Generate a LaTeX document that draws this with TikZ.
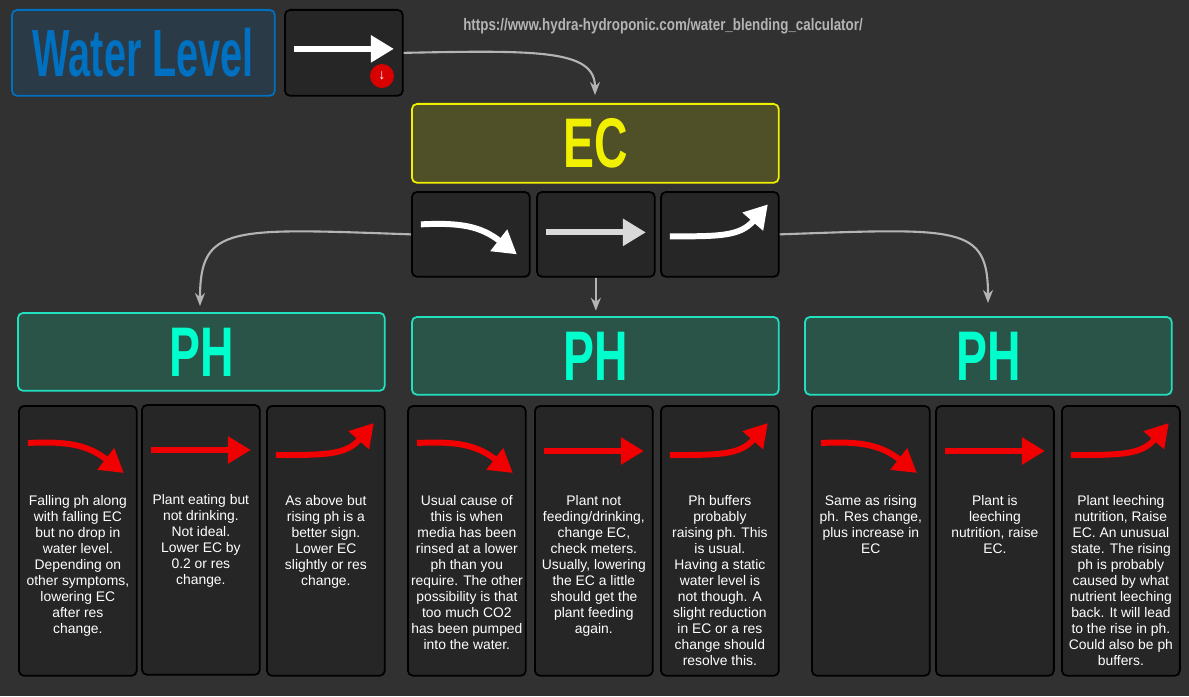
\documentclass[tikz,border=0pt]{standalone}
\usepackage{fontspec}
\setmainfont{Liberation Sans}
\usetikzlibrary{arrows.meta,positioning,calc}
\definecolor{bgdark}{HTML}{313131}
\definecolor{cardfill}{HTML}{262626}
\definecolor{waterfill}{HTML}{2B3A47}
\definecolor{waterline}{HTML}{0070C0}
\definecolor{ecfill}{HTML}{4F4F28}
\definecolor{ecline}{HTML}{F0F000}
\definecolor{phfill}{HTML}{2A5448}
\definecolor{phline}{HTML}{20E0C0}
\definecolor{phtext}{HTML}{00FFCC}
\definecolor{glyphred}{HTML}{F00000}
\definecolor{linkgrey}{HTML}{B4B4B4}
\newcommand{\titletext}[2]{\scalebox{0.66}[1]{\textcolor{#1}{\bfseries #2}}}
\tikzset{
    % Header boxes
    header/.style={
        rectangle,
        rounded corners=3pt,
        draw=#1line,
        fill=#1fill,
        line width=1pt,
        anchor=north west,
        inner sep=0pt
    },
    % Small dark card
    card/.style={
        rectangle,
        rounded corners=3pt,
        draw=black,
        fill=cardfill,
        line width=1pt,
        anchor=north west,
        minimum width=2.36cm,
        inner sep=0pt
    },
    % Explanation text
    note/.style={
        font=\fontsize{7.9}{9.1}\selectfont,
        text=white,
        align=center
    },
    % Connector style
    link/.style={
        -{Stealth[length=2.6mm, width=2mm]},
        line width=1.2pt,
        color=linkgrey
    },
    % Trend glyph style
    glyph/.style={
        line width=#1,
        -{Triangle[length=4.6mm, width=5.2mm]}
    },
    pics/fall/.style={code={
        \draw[glyph=3.4pt, color=#1] (-50,-10) .. controls (-10,-12) and (10,-8) .. (46,20);
    }},
    pics/flat/.style={code={
        \draw[glyph=3.4pt, color=#1] (-50,-2) -- (50,-2);
    }},
    pics/rise/.style={code={
        \draw[glyph=3.4pt, color=#1] (-50,2) .. controls (0,2) and (20,2) .. (48,-30);
    }}
}
\begin{document}
\begin{tikzpicture}[x=0.02cm, y=-0.02cm]
    \fill[bgdark] (0,0) rectangle (1189,696);
    \useasboundingbox (0,0) rectangle (1189,696);

    % Water level row
    \node[header=water, minimum width=5.26cm, minimum height=1.72cm] (water) at (11,9) {};
    \node[font=\fontsize{38}{38}\selectfont] at (water.center) {\scalebox{0.9}[1]{\titletext{waterline}{Water Level}}};
    \node[card, minimum height=1.72cm] (wlcard) at (284,9) {};
    \pic at ($(wlcard.center)+(0,-2)$) {flat=white};
    \node[circle, fill=red!85!black, minimum size=0.48cm, inner sep=0pt, font=\fontsize{8}{8}\selectfont, text=white] (thumb) at (382,76) {\bfseries\textdownarrow};
    \node[font=\fontsize{9.5}{9.5}\selectfont\bfseries, text=linkgrey] (url) at (663,26) {\scalebox{0.8}[1]{https://www.hydra-hydroponic.com/water\_blending\_calculator/}};

    % EC row
    \node[header=ec, minimum width=7.34cm, minimum height=1.58cm] (ec) at (411,103) {};
    \node[font=\fontsize{40}{40}\selectfont] at (ec.center) {\titletext{ecline}{EC}};
    \node[card, minimum height=1.7cm] (ecfall) at (411,191) {};
    \node[card, minimum height=1.7cm] (ecflat) at (536,191) {};
    \node[card, minimum height=1.7cm] (ecrise) at (660,191) {};
    \pic at (ecfall.center) {fall=white};
    \pic at (ecflat.center) {flat=white!85!black};
    \pic at (ecrise.center) {rise=white};

    % PH row
    \node[header=ph, minimum width=7.34cm, minimum height=1.56cm] (phleft) at (17,312) {};
    \node[header=ph, minimum width=7.34cm, minimum height=1.56cm] (phmid) at (411,316) {};
    \node[header=ph, minimum width=7.34cm, minimum height=1.56cm] (phright) at (804,316) {};
    \foreach \p in {phleft,phmid,phright}
        \node[font=\fontsize{40}{40}\selectfont] at (\p.center) {\titletext{phtext}{PH}};

    % Connectors
    \coordinate (ecin) at (595,95);
    \coordinate (phleftin) at (200,306);
    \coordinate (phrightin) at (988,303);
    \draw[link] (wlcard.east) .. controls (540,50) and (595,50) .. (ecin);
    \draw[link] (ecfall.west) .. controls (230,228) and (200,225) .. (phleftin);
    \draw[link] (ecflat.south) -- ++(0,33) coordinate (phmidin);
    \draw[link] (ecrise.east) .. controls (960,228) and (988,225) .. (phrightin);

    % Explanation cards
    \foreach \n/\x/\y/\g/\t in {
        c1/18/405/fall/{Falling ph along\\with falling EC\\but no drop in\\water level.\\Depending on\\other symptoms,\\lowering EC\\after res\\change.},
        c2/141/404/flat/{Plant eating but\\not drinking.\\Not ideal.\\Lower EC by\\0.2 or res\\change.},
        c3/266/405/rise/{As above but\\rising ph is a\\better sign.\\Lower EC\\slightly or res\\change.},
        c4/407/405/fall/{Usual cause of\\this is when\\media has been\\rinsed at a lower\\ph than you\\require. The other\\possibility is that\\too much CO2\\has been pumped\\into the water.},
        c5/534/405/flat/{Plant not\\feeding/drinking,\\change EC,\\check meters.\\Usually, lowering\\the EC a little\\should get the\\plant feeding\\again.},
        c6/660/405/rise/{Ph buffers\\probably\\raising ph. This\\is usual.\\Having a static\\water level is\\not though. A\\slight reduction\\in EC or a res\\change should\\resolve this.},
        c7/811/405/fall/{Same as rising\\ph. Res change,\\plus increase in\\EC},
        c8/935/405/flat/{Plant is\\leeching\\nutrition, raise\\EC.},
        c9/1061/405/rise/{Plant leeching\\nutrition, Raise\\EC. An unusual\\state. The rising\\ph is probably\\caused by what\\nutrient leeching\\back. It will lead\\to the rise in ph.\\Could also be ph\\buffers.}} {
        \node[card, minimum height=5.4cm] (\n) at (\x,\y) {};
        \pic at ($(\n.north)+(0,48)$) {\g=glyphred};
        \node[note, anchor=north] (\n text) at ($(\n.north)+(0,84)$) {\t};
    }
\end{tikzpicture}
\end{document}
